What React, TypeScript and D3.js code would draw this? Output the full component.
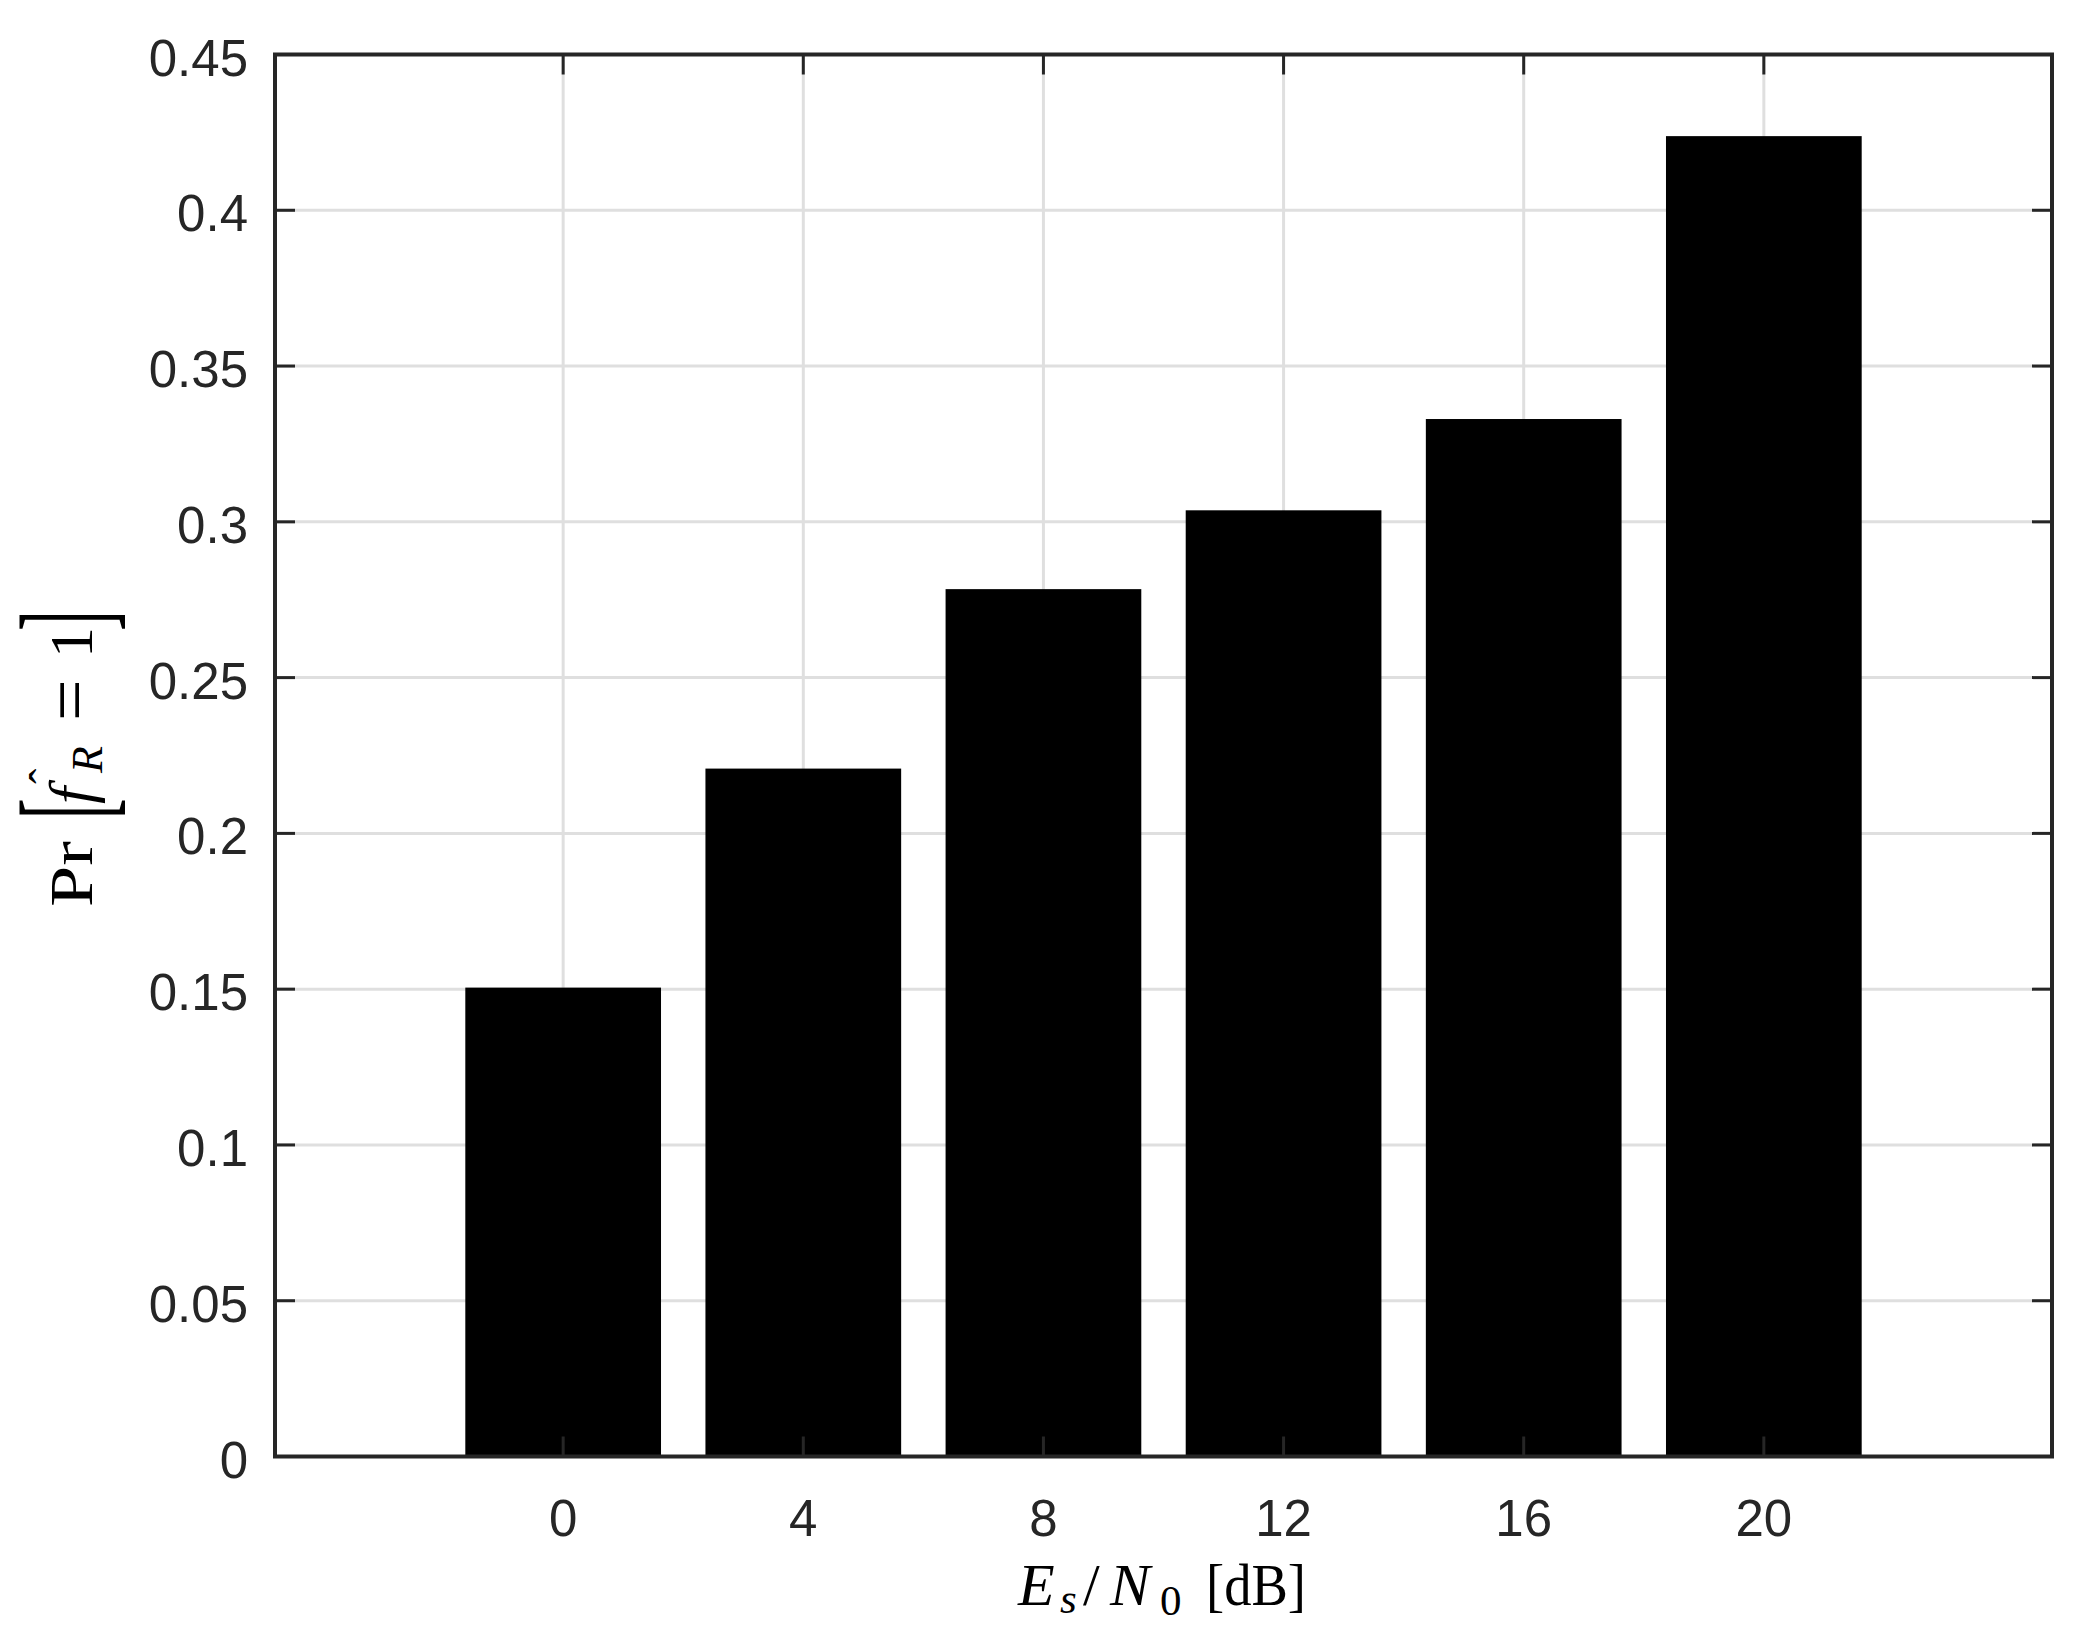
import React from "react";
import * as d3 from "d3";

const snrDb = [0, 4, 8, 12, 16, 20];
const probFR = [0.1505, 0.2208, 0.2784, 0.3037, 0.333, 0.4238];
const yTicks = [0, 0.05, 0.1, 0.15, 0.2, 0.25, 0.3, 0.35, 0.4, 0.45];
const yTickLabels = ["0", "0.05", "0.1", "0.15", "0.2", "0.25", "0.3", "0.35", "0.4", "0.45"];
const xTicks = [0, 4, 8, 12, 16, 20];
const xTickLabels = ["0", "4", "8", "12", "16", "20"];

const W = 2078;
const H = 1637;
const L = 275, R = 2052, T = 54.5, B = 1456.5;
const AX = "#262626";
const GRID = "#dfdfdf";
const SANS = "'Liberation Sans', Arial, Helvetica, sans-serif";
const SERIF = "'Liberation Serif', 'Times New Roman', serif";

export default function App() {
  const x = d3.scaleLinear().domain([-4.8, 24.8]).range([L, R]);
  const y = d3.scaleLinear().domain([0, 0.45]).range([B, T]);
  const barW = 3.26;
  const tl = 20;

  const bracket = (lx: number, key: string, ch: string) => (
    <g key={key} transform={`translate(${lx},-16) scale(1,2.05)`}>
      <text x={0} y={15.5} fontFamily={SERIF} fontSize={62} fill="#000">{ch}</text>
    </g>
  );

  return (
    <svg width={W} height={H} style={{ position: "absolute", left: 0, top: 0, background: "#fff" }}>
      <rect x={0} y={0} width={W} height={H} fill="#fff" />
      {/* grid */}
      {yTicks.map((t) => (
        <line key={"gy" + t} x1={L} x2={R} y1={y(t)} y2={y(t)} stroke={GRID} strokeWidth={3} />
      ))}
      {xTicks.map((t) => (
        <line key={"gx" + t} x1={x(t)} x2={x(t)} y1={T} y2={B} stroke={GRID} strokeWidth={3} />
      ))}
      {/* bars */}
      {snrDb.map((s, i) => (
        <rect
          key={"b" + s}
          x={x(s - barW / 2)}
          width={x(s + barW / 2) - x(s - barW / 2)}
          y={y(probFR[i])}
          height={y(0) - y(probFR[i])}
          fill="#000"
        />
      ))}
      {/* ticks */}
      {yTicks.map((t) => (
        <g key={"ty" + t}>
          <line x1={L} x2={L + tl} y1={y(t)} y2={y(t)} stroke={AX} strokeWidth={3} />
          <line x1={R} x2={R - tl} y1={y(t)} y2={y(t)} stroke={AX} strokeWidth={3} />
        </g>
      ))}
      {xTicks.map((t) => (
        <g key={"tx" + t}>
          <line x1={x(t)} x2={x(t)} y1={B} y2={B - tl} stroke={AX} strokeWidth={3} />
          <line x1={x(t)} x2={x(t)} y1={T} y2={T + tl} stroke={AX} strokeWidth={3} />
        </g>
      ))}
      {/* box */}
      <rect x={L} y={T} width={R - L} height={B - T} fill="none" stroke={AX} strokeWidth={4} />
      {/* y tick labels */}
      {yTicks.map((t, i) => (
        <text key={"yl" + t} x={248} y={y(t) + 21} textAnchor="end" fontFamily={SANS} fontSize={51} fill={AX}>
          {yTickLabels[i]}
        </text>
      ))}
      {/* x tick labels */}
      {xTicks.map((t, i) => (
        <text key={"xl" + t} x={x(t)} y={1536} textAnchor="middle" fontFamily={SANS} fontSize={51} fill={AX}>
          {xTickLabels[i]}
        </text>
      ))}
      {/* x label: E_s / N_0 [dB] */}
      <g fill="#000" fontFamily={SERIF}>
        <text x={1018} y={1605} fontSize={60} fontStyle="italic">E</text>
        <text x={1060} y={1613} fontSize={43} fontStyle="italic">s</text>
        <text x={1083} y={1605} fontSize={60}>/</text>
        <text x={1110} y={1605} fontSize={60} fontStyle="italic">N</text>
        <text x={1160} y={1615} fontSize={43}>0</text>
        <text x={1206} y={1605} fontSize={60} textLength={100} lengthAdjust="spacingAndGlyphs">[dB]</text>
      </g>
      {/* y label: Pr [ f̂_R = 1 ] */}
      <g transform="translate(92,907) rotate(-90)" fill="#000" fontFamily={SERIF}>
        <text x={0} y={0} fontSize={62} textLength={66} lengthAdjust="spacingAndGlyphs">Pr</text>
        {bracket(88, "lb", "[")}
        <text x={103} y={0} fontSize={62} fontStyle="italic">f</text>
        <text x={123} y={-30} fontSize={46}>ˆ</text>
        <text x={134} y={10} fontSize={44} fontStyle="italic">R</text>
        <text x={186} y={2} fontSize={74}>=</text>
        <text x={249} y={0} fontSize={62}>1</text>
        {bracket(276, "rb", "]")}
      </g>
    </svg>
  );
}
